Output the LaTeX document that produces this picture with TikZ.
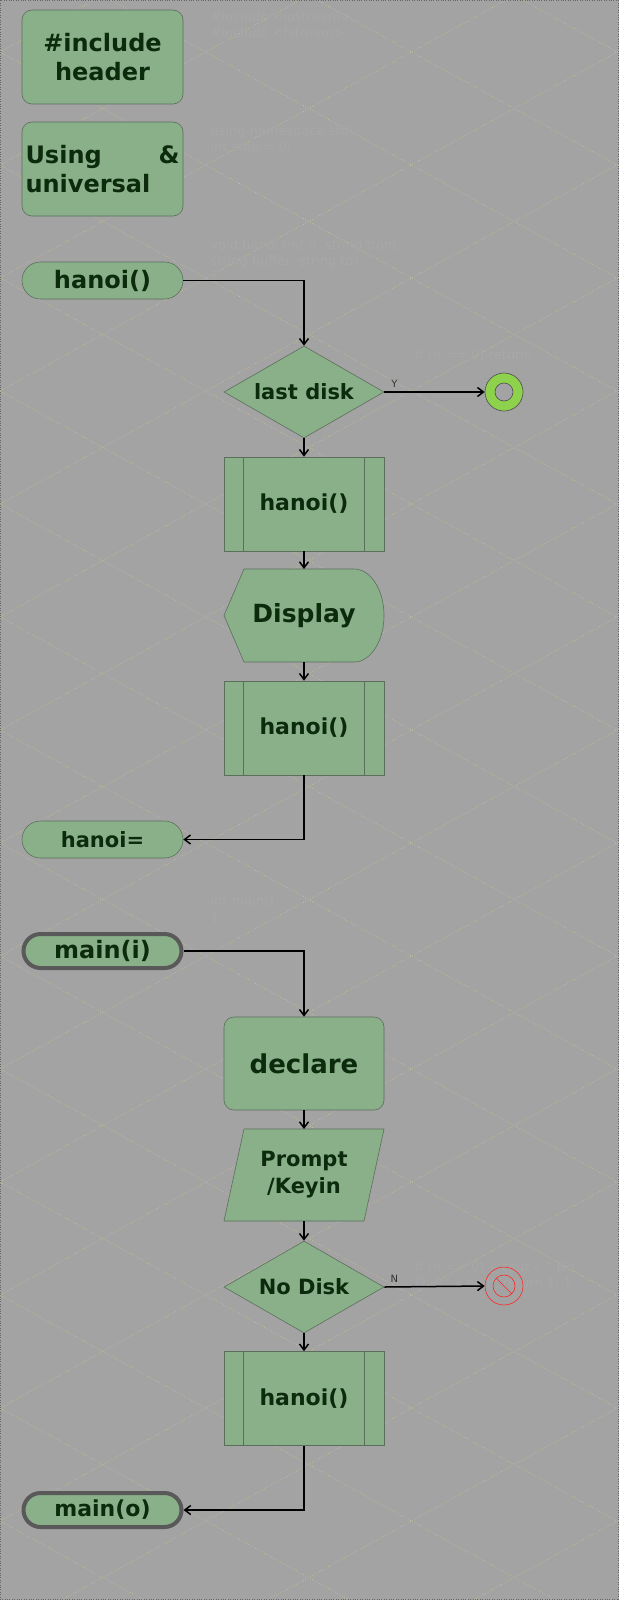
\documentclass[tikz,border=0pt]{standalone}
\usepackage{fontspec}
\setmainfont{DejaVu Sans}
\usetikzlibrary{arrows.meta,shapes.geometric,shapes.misc}
\definecolor{bg}{HTML}{A3A3A3}
\definecolor{boxg}{HTML}{8AB08A}
\definecolor{bord}{HTML}{5C6E5C}
\definecolor{txt}{HTML}{0C2A0C}
\definecolor{grid}{HTML}{CFCA95}
\definecolor{faint}{HTML}{A8A8A8}
\definecolor{endg}{HTML}{8ED14C}
\begin{document}
\begin{tikzpicture}[x=1pt,y=-1pt,
  base/.style={fill=boxg,draw=bord,line width=0.6pt,text=txt,font=\bfseries,inner sep=0pt},
  rbox/.style={base,rounded corners=10pt,minimum width=161pt,minimum height=94pt,align=center,font=\bfseries\fontsize{24}{29}\selectfont},
  term/.style={base,rounded rectangle,minimum width=161pt,minimum height=37pt,font=\bfseries\fontsize{24}{28}\selectfont},
  termk/.style={term,draw=black!65,line width=4pt,minimum width=158pt,minimum height=34pt},
  proc/.style={base,minimum width=160pt,minimum height=94pt,font=\bfseries\fontsize{22}{26}\selectfont},
  dec/.style={base,diamond,aspect=1.74,minimum width=160pt,minimum height=92pt,font=\bfseries\fontsize{21}{24}\selectfont},
  arr/.style={-{Straight Barb[length=6pt,width=9pt]},line width=1.5pt,black},
  ft/.style={text=faint,font=\fontsize{13}{16}\selectfont,anchor=north west,align=left}]
\fill[bg] (0,0) rectangle (619,1600);
\useasboundingbox (0,0) rectangle (619,1600);
\begin{scope}
\clip (0,0) rectangle (619,1600);
\foreach \c in {-400,-287,...,1950}{
  \draw[grid,dotted,line width=0.6pt] (0,\c) -- (619,\c+340);
  \draw[grid,dotted,line width=0.6pt] (0,\c) -- (619,\c-340);
}
\end{scope}
\draw[black!60,dotted] (0.5,0.5) rectangle (618.5,1599.5);
% faint texts
\node[ft] at (207,8) {\#include <iostream>\\\#include <fstream>};
\node[ft] at (207,122) {using namespace std;\\int step = 0;};
\node[ft] at (207,236) {void hanoi (int n, string from,\\string buffer, string to)\\\{};
\node[ft] at (412,346) {if (n == 0) return;};
\node[ft] at (207,892) {int main()\\\{};
\node[ft] at (412,1258) {if (n == 0) \{ cout << " No\\Disk" << endl; return 1; \}};
% nodes
\node[rbox] (inc) at (102.5,57) {\#include\\header};
\node[rbox,text width=154pt,align=justify] (use) at (102.5,169) {Using \hfill \&\\universal};
\node[term] (h0) at (102.5,280.5) {hanoi()};
\node[dec] (d1) at (304,392) {last disk\ };
\node[circle,fill=endg,draw=black!70,line width=0.6pt,minimum size=38pt,inner sep=0pt] (e1) at (504,392) {};
\draw[fill=bg,draw=black!70,line width=0.6pt] (504,392) circle (9);
\node[proc] (p1) at (304,504) {hanoi()};
\draw[bord,line width=0.6pt] ([xshift=20pt]p1.north west) -- ([xshift=20pt]p1.south west) ([xshift=-20pt]p1.north east) -- ([xshift=-20pt]p1.south east);
\coordinate (dtop) at (304,569);
\coordinate (dbot) at (304,662);
\draw[base] (244,569) -- (354,569) arc[start angle=-90,end angle=90,x radius=30,y radius=46.5] -- (244,662) -- (224,615.5) -- cycle;
\node[text=txt,font=\bfseries\fontsize{25}{30}\selectfont] (disp) at (304,616) {Display};
\node[proc] (p2) at (304,728) {hanoi()};
\draw[bord,line width=0.6pt] ([xshift=20pt]p2.north west) -- ([xshift=20pt]p2.south west) ([xshift=-20pt]p2.north east) -- ([xshift=-20pt]p2.south east);
\node[term,font=\bfseries\fontsize{21}{25}\selectfont] (heq) at (102.5,839.5) {hanoi=};
\node[termk] (mi) at (102.5,951) {main(i)};
\node[rbox,minimum width=160pt,minimum height=93pt,font=\bfseries\fontsize{26}{30}\selectfont] (decl) at (304,1063.5) {declare};
\coordinate (ptop) at (304,1129);
\coordinate (pbot) at (304,1221);
\draw[base] (244,1129) -- (384,1129) -- (364,1221) -- (224,1221) -- cycle;
\node[text=txt,align=center,font=\bfseries\fontsize{21}{27}\selectfont] (pr) at (304,1175) {Prompt\\/Keyin};
\node[dec] (d2) at (304,1287) {No Disk};
\node[circle,draw=red!85,line width=0.6pt,minimum size=38pt,inner sep=0pt] (e2) at (504,1286) {};
\draw[red!85,line width=0.6pt] (504,1286) circle (11) (496,1278) -- (512,1294);
\node[proc] (p3) at (304,1398.5) {hanoi()};
\draw[bord,line width=0.6pt] ([xshift=20pt]p3.north west) -- ([xshift=20pt]p3.south west) ([xshift=-20pt]p3.north east) -- ([xshift=-20pt]p3.south east);
\node[termk,font=\bfseries\fontsize{22}{26}\selectfont] (mo) at (102.5,1510) {main(o)};
% edges
\draw[arr] (h0.east) -| (d1.north);
\draw[arr] (d1.east) -- node[pos=0.1,above,font=\fontsize{10}{12}\selectfont,text=black!80]{Y} (e1.west);
\draw[arr] (d1.south) -- (p1.north);
\draw[arr] (p1.south) -- (dtop);
\draw[arr] (dbot) -- (p2.north);
\draw[arr] (p2.south) |- (heq.east);
\draw[arr] (mi.east) -| (decl.north);
\draw[arr] (decl.south) -- (ptop);
\draw[arr] (pbot) -- (d2.north);
\draw[arr] (d2.east) -- node[pos=0.1,above,font=\fontsize{10}{12}\selectfont,text=black!80]{N} (e2.west);
\draw[arr] (d2.south) -- (p3.north);
\draw[arr] (p3.south) |- (mo.east);
\end{tikzpicture}
\end{document}
